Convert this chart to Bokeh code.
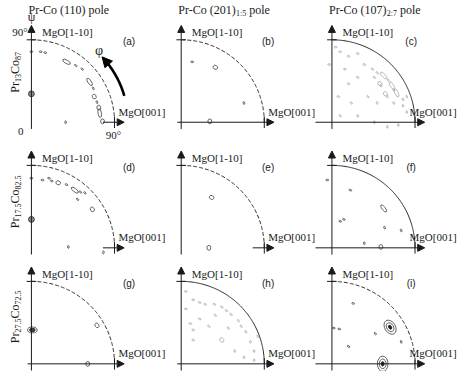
import math
import numpy as np
from bokeh.plotting import figure
from bokeh.models import Range1d, Arrow, NormalHead
from bokeh.core.properties import value
from bokeh.embed import file_html
from bokeh.resources import INLINE

# ---------------- data ----------------
col_title_main = ["Pr-Co (110)", "Pr-Co (201)", "Pr-Co (107)"]
col_title_sub = ["", "1:5", "2:7"]
col_title_tail = " pole"
row_pr_sub = ["13", "17.5", "27.5"]
row_co_sub = ["87", "82.5", "72.5"]
panel_tags = ["(a)", "(b)", "(c)", "(d)", "(e)", "(f)", "(g)", "(h)", "(i)"]
label_up = "MgO[1-10]"
label_right = "MgO[001]"
psi_ends = ["0", "90°"]
psi_symbol = "ψ"
phi_symbol = "φ"

# pole-figure spots: u = psi*cos(phi), v = psi*sin(phi)  (degrees)
# k: 0 speck, 1 small contour, 2 elongated contour, 3 shaded pole, 4 strong pole, 5 medium pole
a_u = [0, 0, 10, 15, 37, 38, 48, 55, 63, 67, 68, 71, 73, 74, 77]
a_v = [31, 77, 77, 76, 0, 66, 62, 58, 44, 37, 28, 22, 16, 10, 1]
a_k = [3, 0, 0, 0, 0, 2, 0, 0, 2, 0, 1, 0, 1, 2, 1]

b_u = [37, 12, 31, 68]
b_v = [60, 66, 1, 21]
b_k = [1, 0, 1, 0]

c_u = [4, 9, 18, 28, 35, 44, 49, 56, 46, 61, 65, 67, 70, 60, 53, 28, 18, 7, 21, 39,
       49, 67, 77, 81, 28, 9, 46, 60, 72, 77, 14, -3, 81, 52, 58]
c_v = [82, 77, 72, 75, 63, 58, 54, 51, 49, 46, 40, 35, 32, 28, 40, 49, 42, 28, 21, 28,
       21, 21, 18, 11, 7, 7, 0, -5, -3, 25, 58, 63, 28, 42, 31]
c_k = [0, 0, 0, 0, 0, 0, 0, 2, 0, 0, 2, 0, 2, 0, 0, 0, 0, 0, 0, 0,
       0, 0, 0, 0, 0, 0, 0, 0, 0, 0, 0, 0, 0, 1, 1]

d_u = [0, 0, 12, 19, 22, 29, 38, 47, 53, 58, 50, 66, 40, 78]
d_v = [31, 76, 74, 76, 73, 71, 69, 63, 61, 60, 53, 42, 1, -5]
d_k = [3, 0, 0, 0, 0, 1, 0, 2, 0, 0, 0, 1, 0, 0]

e_u = [33, 30]
e_v = [55, 0]
e_k = [1, 1]

f_u = [56, 53, 13, 9, 20, 57, 75, 35, -5]
f_v = [43, 1, 31, 29, 63, 22, 19, 5, 74]
f_k = [2, 1, 0, 0, 0, 0, 0, 0, 0]

g_u = [1, 71, 61]
g_v = [37, 42, 0]
g_k = [5, 1, 1]

h_u = [5, 13, 20, 26, 36, 44, 49, 37, 54, 62, 65, 70, 44, 20, 10, 30, 75, 79, 58, 13,
       5, 51, 83, 79, 68, 13]
h_v = [79, 70, 67, 65, 65, 62, 58, 53, 54, 47, 41, 35, 26, 49, 44, 41, 24, 14, 14, 26,
       60, 39, 30, 4, 7, 37]
h_k = [0, 0, 0, 0, 0, 0, 0, 0, 0, 0, 0, 0, 1, 0, 0, 0, 0, 0, 0, 0,
       0, 0, 0, 0, 0, 0]

i_u = [63, 55, 23, 8, 2, 47, 75, 18]
i_v = [40, 0, 66, 38, 39, 33, 24, 19]
i_k = [4, 4, 0, 0, 0, 0, 0, 0]

panel_u = [a_u, b_u, c_u, d_u, e_u, f_u, g_u, h_u, i_u]
panel_v = [a_v, b_v, c_v, d_v, e_v, f_v, g_v, h_v, i_v]
panel_k = [a_k, b_k, c_k, d_k, e_k, f_k, g_k, h_k, i_k]

# ---------------- layout / style ----------------
REF_W, REF_H = 474, 387
W, H = 458, 371
SX, SY = REF_W / W, REF_H / H
col_x = [32, 187, 343]
row_y = [127, 258, 379]
tag_x = [133, 277, 425]
R = 86.0
arc_solid = [False, False, True, False, False, True, False, True, False]
haxis_mode = ["short", "full", "long", "short", "short", "long", "full", "full", "long"]
faint = [False, False, True, False, False, False, False, True, False]

SERIF = "Liberation Serif"
SANS = "Liberation Sans"
INK = "#1a1a1a"

p = figure(width=W, height=H, x_range=Range1d(0, REF_W), y_range=Range1d(REF_H, 0),
           output_backend="svg", toolbar_location=None, min_border=0)
p.xaxis.visible = False
p.yaxis.visible = False
p.grid.visible = False
p.outline_line_color = None
p.background_fill_color = "white"

TW = {'P': .556, 'r': .333, '-': .333, 'C': .667, 'o': .5, ' ': .25, '(': .333, ')': .333,
      'p': .5, 'l': .278, 'e': .444, ':': .278, '.': .25, 'M': .889, 'g': .5, 'O': .722,
      '[': .333, ']': .333}


def text_w(s, size):
    return sum(TW.get(ch, 0.5) for ch in s) * size


def put(x, y, s, size, align="left", baseline="alphabetic", angle=0.0, font=SERIF, color=INK):
    p.text(x=[x], y=[y], text=[s], text_font=value(font), text_font_size=f"{size}px",
           text_align=align, text_baseline=baseline, angle=angle, text_color=color)


def put_h(x0, y0, pieces):
    x = x0
    for s, size, shift in pieces:
        lead = len(s) - len(s.lstrip(" "))
        x += text_w(" " * lead, size) * SX
        s = s.lstrip(" ")
        put(x, y0 + shift * SY, s, size)
        x += text_w(s, size) * SX


def put_v(x0, yc, pieces):
    total = sum(text_w(s, size) for s, size, _ in pieces) * SY
    y = yc + total / 2
    for s, size, shift in pieces:
        put(x0 + shift * SX, y, s, size, angle=math.pi / 2)
        y -= text_w(s, size) * SY


# column titles
for c in range(3):
    if col_title_sub[c]:
        pieces = [(col_title_main[c], 12, 0), (col_title_sub[c], 8, 3), (col_title_tail, 12, 0)]
    else:
        pieces = [(col_title_main[c] + col_title_tail, 12, 0)]
    put_h(col_x[c] - 3, 10, pieces)

# row labels
for r in range(3):
    put_v(15, [75, 210, 330][r], [("Pr", 12, 0), (row_pr_sub[r], 8, 3), ("Co", 12, 0), (row_co_sub[r], 8, 3)])

theta = np.linspace(0, np.pi / 2, 120)
ring_x, ring_y, ring_w, ring_h, ring_a, ring_c = [], [], [], [], [], []
fill_x, fill_y, fill_w, fill_h, fill_a, fill_c, fill_l = [], [], [], [], [], [], []

for idx in range(9):
    r, c = divmod(idx, 3)
    ox, oy = col_x[c], row_y[r]
    # quarter circle (psi = 90 deg)
    p.line(ox + R * np.cos(theta), oy - R * np.sin(theta), line_color="#2a2a2a", line_width=1,
           line_dash="solid" if arc_solid[idx] else "4 2")
    # end ticks
    p.segment(x0=[ox - 5, ox + R], y0=[oy - R, oy - 6], x1=[ox + 5, ox + R], y1=[oy - R, oy + 6],
              line_color=INK, line_width=1)
    # axes
    p.add_layout(Arrow(end=NormalHead(size=7, fill_color=INK, line_color=INK),
                       x_start=ox, y_start=oy + 7, x_end=ox, y_end=oy - 101,
                       line_color=INK, line_width=1))
    hs = {"short": ox + R - 12, "full": ox - 4, "long": ox - 17}[haxis_mode[idx]]
    p.add_layout(Arrow(end=NormalHead(size=7, fill_color=INK, line_color=INK),
                       x_start=hs, y_start=oy, x_end=ox + R + 10, y_end=oy,
                       line_color=INK, line_width=1))
    put(ox + 11, oy - 94, label_up, 11, baseline="middle")
    lw = text_w(label_right, 11) * SX
    put(min(ox + R + 4, REF_W - 2 - lw), oy - 11, label_right, 11, baseline="middle")
    put(tag_x[c], oy - 84, panel_tags[idx], 10, align="center", baseline="middle", font=SANS)

    col = "#b0b0b0" if faint[idx] else "#505050"
    scale = R / 90.0
    for u, v, k in zip(panel_u[idx], panel_v[idx], panel_k[idx]):
        x = ox + u * scale
        y = oy - v * scale
        ang = math.atan2(v, u) if (u or v) else 0.0
        if k == 0:
            rings = [(1.6, 3.0)]
        elif k == 1:
            rings = [(4.0, 5.0)]
        elif k == 2:
            rings = [(3.5, 9.0)]
        elif k == 4:
            rings = [(11.0, 16.0), (7.0, 10.0)]
        elif k == 5:
            rings = [(6.0, 10.0)]
        else:
            rings = []
        for rw, th in rings:
            ring_x.append(x); ring_y.append(y); ring_w.append(rw); ring_h.append(th)
            ring_a.append(ang); ring_c.append(col)
        if k == 3:
            fill_x.append(x); fill_y.append(y); fill_w.append(6.0); fill_h.append(6.0)
            fill_a.append(0.0); fill_c.append("#8c8c8c"); fill_l.append("#303030")
        if k == 4:
            fill_x.append(x); fill_y.append(y); fill_w.append(3.0); fill_h.append(4.5)
            fill_a.append(ang); fill_c.append("#202020"); fill_l.append("#202020")
        if k == 5:
            fill_x.append(x); fill_y.append(y); fill_w.append(3.5); fill_h.append(6.0)
            fill_a.append(ang); fill_c.append("#404040"); fill_l.append("#202020")

p.ellipse(x=ring_x, y=ring_y, width=ring_w, height=ring_h, angle=ring_a,
          fill_alpha=0, line_color=ring_c, line_width=0.9)
p.ellipse(x=fill_x, y=fill_y, width=fill_w, height=fill_h, angle=fill_a,
          fill_color=fill_c, line_color=fill_l, line_width=0.9)

# panel (a) angular annotations
ox, oy = col_x[0], row_y[0]
put(ox, oy - 110, psi_symbol, 12, align="center", baseline="middle")
put(ox - 12, oy - 94, psi_ends[1], 11, align="center", baseline="middle")
put(ox - 11, oy + 10, psi_ends[0], 11, align="center", baseline="middle")
put(ox + R - 1, oy + 13, psi_ends[1], 11, align="center", baseline="middle")
put(ox + 70, oy - 75, phi_symbol, 14, align="center", baseline="middle")
t = np.radians(np.linspace(16, 40, 40))
p.line(ox + 100 * np.cos(t), oy - 100 * np.sin(t), line_color="black", line_width=2.6)
t0, t1 = math.radians(39), math.radians(43)
p.add_layout(Arrow(end=NormalHead(size=10, fill_color="black", line_color="black"),
                   x_start=ox + 100 * math.cos(t0), y_start=oy - 100 * math.sin(t0),
                   x_end=ox + 100 * math.cos(t1), y_end=oy - 100 * math.sin(t1),
                   line_color="black", line_width=2.6))

open("out.html", "w").write(file_html(p, INLINE))
